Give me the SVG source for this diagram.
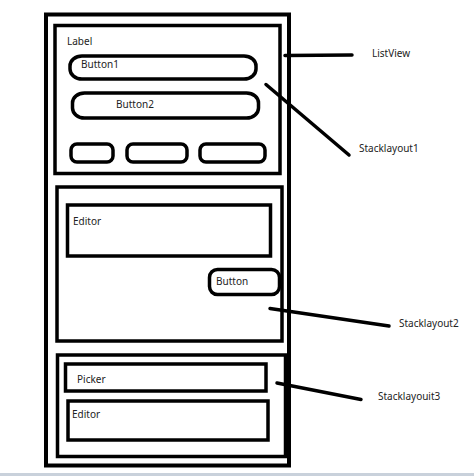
<svg xmlns="http://www.w3.org/2000/svg" width="474" height="476" viewBox="0 0 474 476">
<style>
.box{fill:none;stroke:#000;stroke-width:3.5}
.outer{fill:none;stroke:#000;stroke-width:4}
.btn{fill:none;stroke:#000;stroke-width:3.5}
.lbl{font-family:"Noto Sans","Open Sans",sans-serif;font-size:10px;fill:#222}
.con{stroke:#000;stroke-width:3.5;stroke-linecap:round}
</style>
<rect width="474" height="476" fill="#fff"/>
<rect x="0" y="473" width="474" height="3" fill="#c9d1db"/>
<g id="listview"><rect class="outer" x="46" y="14.5" width="243" height="451"/></g>
<g id="stacklayout1">
<rect class="box" x="55" y="25.5" width="225" height="148"/>
<text class="lbl" x="67" y="45">Label</text>
</g>
<g id="button1"><rect class="btn" x="70" y="56" width="186" height="23" rx="12" ry="10"/><text class="lbl" x="81" y="68">Button1</text></g>
<g id="button2"><rect class="btn" x="72.5" y="93" width="186" height="25" rx="12" ry="10"/><text class="lbl" x="116" y="108">Button2</text></g>
<g id="small1"><rect class="btn" x="71" y="144" width="42" height="18" rx="6"/></g>
<g id="small2"><rect class="btn" x="127" y="144" width="60" height="18" rx="6"/></g>
<g id="small3"><rect class="btn" x="200" y="144" width="65" height="18" rx="6"/></g>
<g id="stacklayout2"><rect class="box" x="57" y="187" width="225" height="154"/></g>
<g id="editor1"><rect class="box" x="67.5" y="205" width="203" height="51"/><text class="lbl" x="73" y="225">Editor</text></g>
<g id="button3"><rect class="btn" x="209.5" y="269.5" width="70" height="25" rx="8"/><text class="lbl" x="216" y="285">Button</text></g>
<g id="stacklayout3"><rect class="box" x="57.5" y="355" width="228" height="101.5"/></g>
<g id="picker"><rect class="box" x="65.5" y="364" width="200.5" height="27"/><text class="lbl" x="77" y="383">Picker</text></g>
<g id="editor2"><rect class="box" x="68" y="401" width="200" height="39"/><text class="lbl" x="72" y="418">Editor</text></g>
<g id="connectors">
<line class="con" x1="285" y1="55.5" x2="352" y2="55"/>
<line class="con" x1="266" y1="84.5" x2="349" y2="155"/>
<line class="con" x1="270" y1="308.5" x2="389" y2="326"/>
<line class="con" x1="277" y1="383" x2="361" y2="399.5"/>
</g>
<g id="callouts">
<text class="lbl" x="372" y="57">ListView</text>
<text class="lbl" x="359" y="152">Stacklayout1</text>
<text class="lbl" x="399" y="327">Stacklayout2</text>
<text class="lbl" x="378" y="400">Stacklayouit3</text>
</g>
</svg>
